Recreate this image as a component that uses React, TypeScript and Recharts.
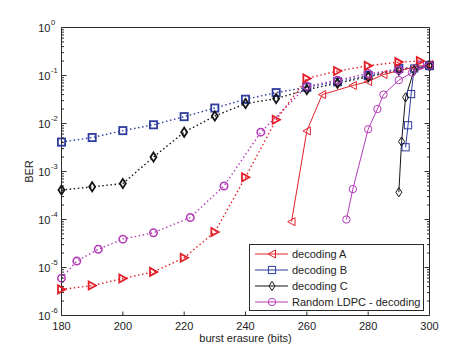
import React from 'react';
import { LineChart, Line, XAxis, YAxis, Legend, Label } from 'recharts';

// ---------- tick labels ----------
const xTicks = [180, 200, 220, 240, 260, 280, 300];
const yMajorTicks = [1e-6, 1e-5, 1e-4, 1e-3, 1e-2, 1e-1, 1];
const yExponents = ['-6', '-5', '-4', '-3', '-2', '-1', '0'];
const yMinorMultipliers = [2, 3, 4, 5, 6, 7, 8, 9];

// ---------- series (dotted, not in legend) ----------
const aDotX = [180, 190, 200, 210, 220, 230, 240, 250, 260, 270, 280, 290, 297];
const aDotY = [3.5e-6, 4.2e-6, 5.9e-6, 8.1e-6, 1.6e-5, 5.5e-5, 7.6e-4, 1.2e-2, 8.7e-2, 0.124, 0.16, 0.19, 0.2];

const bDotX = [180, 190, 200, 210, 220, 230, 240, 250, 260, 270, 280, 290, 300];
const bDotY = [4.1e-3, 5.1e-3, 7.1e-3, 9.4e-3, 1.39e-2, 2.1e-2, 3.2e-2, 4.4e-2, 5.7e-2, 7.4e-2, 0.1, 0.14, 0.16];

const cDotX = [180, 190, 200, 210, 220, 230, 240, 250, 260, 270, 280, 290, 300];
const cDotY = [4.1e-4, 4.8e-4, 5.6e-4, 2.0e-3, 6.6e-3, 1.43e-2, 2.6e-2, 3.3e-2, 5.1e-2, 6.9e-2, 9.4e-2, 0.13, 0.16];

const rDotX = [180, 185, 192, 200, 210, 222, 233, 245, 260, 270, 280, 290, 297];
const rDotY = [6e-6, 1.36e-5, 2.4e-5, 3.9e-5, 5.3e-5, 1.1e-4, 5e-4, 6.6e-3, 6e-2, 8e-2, 0.11, 0.13, 0.165];

// ---------- series (solid, in legend) ----------
const aX = [255, 260, 265, 275, 280, 285, 295, 300];
const aY = [9e-5, 7e-3, 4e-2, 6.2e-2, 7.5e-2, 0.105, 0.15, 0.17];

const bX = [292.2, 293, 294, 295, 300];
const bY = [3.2e-3, 9.2e-3, 4.1e-2, 0.14, 0.16];

const cX = [290, 290.9, 292.2, 295, 300];
const cY = [3.7e-4, 4.2e-3, 3.5e-2, 0.13, 0.16];

const rX = [272.9, 275, 280, 283, 285, 290, 294.3, 300];
const rY = [1e-4, 4.3e-4, 7.6e-3, 2e-2, 4e-2, 8e-2, 0.115, 0.16];

const seriesNames = ['decoding A', 'decoding B', 'decoding C', 'Random LDPC - decoding'];

const RED = '#e3202a';
const BLUE = '#2e3d9c';
const BLACK = '#151515';
const MAG = '#b43cb8';
const AX = '#2a2a2a';
const TXT = '#222';
const FONT = '"Liberation Sans", Arial, Helvetica, sans-serif';

const toData = (xs: number[], ys: number[]) => xs.map((x, i) => ({ x, y: ys[i] }));

const yMinorTicks: number[] = [];
yMajorTicks.slice(0, -1).forEach((m) => yMinorMultipliers.forEach((k) => yMinorTicks.push(m * k)));
const yAllTicks = [...yMajorTicks, ...yMinorTicks].sort((a, b) => a - b);

type Shape = 'right' | 'left' | 'square' | 'diamond' | 'circle';

const Marker = ({ cx, cy, shape, color, sw }: { cx: number; cy: number; shape: Shape; color: string; sw: number }) => {
  const common = { fill: 'none', stroke: color, strokeWidth: sw };
  switch (shape) {
    case 'right':
      return <polygon points={`${cx - 3.5},${cy - 4} ${cx + 3.8},${cy} ${cx - 3.5},${cy + 4}`} {...common} />;
    case 'left':
      return <polygon points={`${cx + 3.5},${cy - 4} ${cx - 3.8},${cy} ${cx + 3.5},${cy + 4}`} {...common} />;
    case 'square':
      return <rect x={cx - 3.6} y={cy - 3.6} width={7.2} height={7.2} {...common} />;
    case 'diamond':
      return <polygon points={`${cx},${cy - 4.6} ${cx + 3},${cy} ${cx},${cy + 4.6} ${cx - 3},${cy}`} {...common} />;
    default:
      return <circle cx={cx} cy={cy} r={3.7} {...common} />;
  }
};

const makeDot = (shape: Shape, color: string, sw: number) => (props: any) => {
  const { cx, cy, index } = props;
  if (cx == null || cy == null || isNaN(cx) || isNaN(cy)) return <g key={`e${index}`} />;
  return <Marker key={`d${index}`} cx={cx} cy={cy} shape={shape} color={color} sw={sw} />;
};

const isMajor = (v: number) => {
  const e = Math.log10(v);
  return Math.abs(e - Math.round(e)) < 1e-6;
};

const LeftTick = (p: any) => {
  const { x, y, payload } = p;
  const v = payload.value;
  const major = isMajor(v);
  const idx = yMajorTicks.findIndex((m) => Math.abs(Math.log10(m) - Math.log10(v)) < 1e-6);
  return (
    <g>
      <line x1={x} x2={x + (major ? 5 : 2.5)} y1={y} y2={y} stroke={AX} strokeWidth={1} />
      {major && (
        <g>
          <text x={x - 11} y={y + 4.5} textAnchor="end" fontSize={11} fill={TXT} fontFamily={FONT}>10</text>
          <text x={x - 10.5} y={y - 2.5} textAnchor="start" fontSize={7.5} fill={TXT} fontFamily={FONT}>{yExponents[idx]}</text>
        </g>
      )}
    </g>
  );
};

const RightTick = (p: any) => {
  const { x, y, payload } = p;
  const major = isMajor(payload.value);
  return <line x1={x} x2={x - (major ? 5 : 2.5)} y1={y} y2={y} stroke={AX} strokeWidth={1} />;
};

const BottomTick = (p: any) => {
  const { x, y, payload } = p;
  return (
    <g>
      <line x1={x} x2={x} y1={y} y2={y - 4} stroke={AX} strokeWidth={1} />
      <text x={x} y={y + 14} textAnchor="middle" fontSize={11} fill={TXT} fontFamily={FONT}>{payload.value}</text>
    </g>
  );
};

const TopTick = (p: any) => {
  const { x, y } = p;
  return <line x1={x} x2={x} y1={y} y2={y + 4} stroke={AX} strokeWidth={1} />;
};

const legendStyle: Record<string, { shape: Shape; color: string }> = {
  'decoding A': { shape: 'left', color: RED },
  'decoding B': { shape: 'square', color: BLUE },
  'decoding C': { shape: 'diamond', color: BLACK },
  'Random LDPC - decoding': { shape: 'circle', color: MAG },
};

const renderLegend = (props: any) => {
  const payload = (props.payload || []).filter((e: any) => e.type !== 'none' && seriesNames.includes(e.value));
  payload.sort((a: any, b: any) => seriesNames.indexOf(a.value) - seriesNames.indexOf(b.value));
  return (
    <div
      style={{
        width: 175,
        height: 67,
        boxSizing: 'border-box',
        border: `1px solid ${AX}`,
        background: '#fff',
        paddingTop: 1,
        fontFamily: FONT,
        fontSize: 11,
        color: TXT,
      }}
    >
      {payload.map((e: any) => {
        const st = legendStyle[e.value];
        return (
          <div key={e.value} style={{ height: 16, display: 'flex', alignItems: 'center' }}>
            <svg width={42} height={16} style={{ display: 'block', flex: 'none' }}>
              <line x1={5} x2={38} y1={8} y2={8} stroke={st.color} strokeWidth={1} />
              <Marker cx={22} cy={8} shape={st.shape} color={st.color} sw={1} />
            </svg>
            <span style={{ whiteSpace: 'nowrap', lineHeight: '16px' }}>{e.value}</span>
          </div>
        );
      })}
    </div>
  );
};

const dottedProps = { strokeWidth: 1.4, strokeDasharray: '1.5 2.6', legendType: 'none' as const, isAnimationActive: false, type: 'linear' as const };
const solidProps = { strokeWidth: 1, isAnimationActive: false, type: 'linear' as const };

export default function App() {
  return (
    <div style={{ position: 'absolute', left: 0, top: 0, width: 474, height: 355, background: '#fff' }}>
      <LineChart width={474} height={355} margin={{ top: 25.5, right: 34.5, bottom: 9.5, left: 7.5 }}>
        <XAxis
          xAxisId="b"
          type="number"
          dataKey="x"
          domain={[180, 300]}
          ticks={xTicks}
          interval={0}
          tickSize={0}
          tickMargin={0}
          tickLine={false}
          axisLine={{ stroke: AX }}
          tick={(p: any) => <BottomTick {...p} />}
          height={30}
        >
          <Label value="burst erasure (bits)" position="insideBottom" offset={4} fontSize={11} fill={TXT} fontFamily={FONT} />
        </XAxis>
        <XAxis
          xAxisId="t"
          orientation="top"
          type="number"
          domain={[180, 300]}
          ticks={xTicks}
          interval={0}
          tickSize={0}
          tickMargin={0}
          tickLine={false}
          axisLine={{ stroke: AX }}
          tick={(p: any) => <TopTick {...p} />}
          height={2}
          allowDataOverflow
        />
        <YAxis
          yAxisId="l"
          type="number"
          scale="log"
          domain={[1e-6, 1]}
          ticks={yAllTicks}
          interval={0}
          tickSize={0}
          tickMargin={0}
          tickLine={false}
          axisLine={{ stroke: AX }}
          tick={(p: any) => <LeftTick {...p} />}
          width={54}
        >
          <Label
            content={(p: any) => {
              const vb = p.viewBox || {};
              const cx = (vb.x || 0) + 21;
              const cy = (vb.y || 0) + (vb.height || 0) / 2;
              return (
                <text x={cx} y={cy} transform={`rotate(-90 ${cx} ${cy})`} textAnchor="middle" dominantBaseline="central" fontSize={11} fill={TXT} fontFamily={FONT}>
                  BER
                </text>
              );
            }}
          />
        </YAxis>
        <YAxis
          yAxisId="r"
          orientation="right"
          type="number"
          scale="log"
          domain={[1e-6, 1]}
          ticks={yAllTicks}
          interval={0}
          tickSize={0}
          tickMargin={0}
          tickLine={false}
          axisLine={{ stroke: AX }}
          tick={(p: any) => <RightTick {...p} />}
          width={10}
          allowDataOverflow
        />

        <Line xAxisId="b" yAxisId="l" data={toData(bDotX, bDotY)} dataKey="y" name="B bound" stroke={BLUE} dot={makeDot('square', BLUE, 1.8)} {...dottedProps} />
        <Line xAxisId="b" yAxisId="l" data={toData(cDotX, cDotY)} dataKey="y" name="C bound" stroke={BLACK} dot={makeDot('diamond', BLACK, 1.8)} {...dottedProps} />
        <Line xAxisId="b" yAxisId="l" data={toData(rDotX, rDotY)} dataKey="y" name="LDPC bound" stroke={MAG} dot={makeDot('circle', MAG, 1.6)} {...dottedProps} />
        <Line xAxisId="b" yAxisId="l" data={toData(aDotX, aDotY)} dataKey="y" name="A bound" stroke={RED} dot={makeDot('right', RED, 1.8)} {...dottedProps} />

        <Line xAxisId="b" yAxisId="l" data={toData(aX, aY)} dataKey="y" name={seriesNames[0]} stroke={RED} dot={makeDot('left', RED, 1)} {...solidProps} />
        <Line xAxisId="b" yAxisId="l" data={toData(bX, bY)} dataKey="y" name={seriesNames[1]} stroke={BLUE} dot={makeDot('square', BLUE, 1)} {...solidProps} />
        <Line xAxisId="b" yAxisId="l" data={toData(cX, cY)} dataKey="y" name={seriesNames[2]} stroke={BLACK} dot={makeDot('diamond', BLACK, 1)} {...solidProps} />
        <Line xAxisId="b" yAxisId="l" data={toData(rX, rY)} dataKey="y" name={seriesNames[3]} stroke={MAG} dot={makeDot('circle', MAG, 1)} {...solidProps} />

        <Legend
          layout="vertical"
          align="center"
          verticalAlign="middle"
          wrapperStyle={{ left: 249, top: 244, width: 175, height: 67 }}
          content={renderLegend}
        />
      </LineChart>
    </div>
  );
}
